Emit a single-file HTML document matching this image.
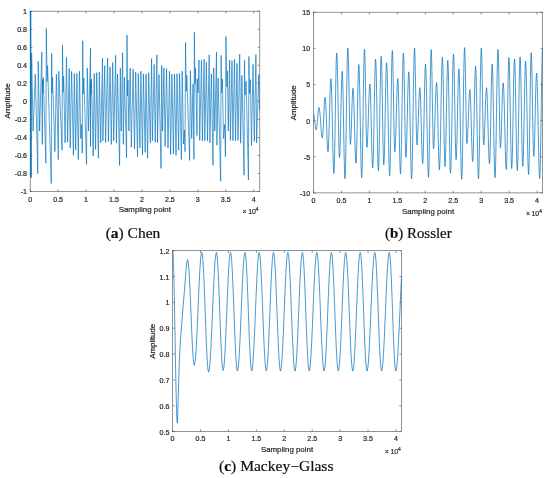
<!DOCTYPE html>
<html><head><meta charset="utf-8"><title>Figure</title>
<style>
html,body{margin:0;padding:0;background:#fff;}
body{width:550px;height:478px;overflow:hidden;position:relative;}
svg{position:absolute;left:0;top:0;display:block;}
text{font-family:"Liberation Sans",Arial,Helvetica,sans-serif;fill:#262626;}
.xt{font-size:7.1px;text-anchor:middle;stroke:#262626;stroke-width:0.2px;}
.yt{font-size:7.1px;text-anchor:end;stroke:#262626;stroke-width:0.2px;}
.lb{font-size:7.9px;text-anchor:middle;stroke:#262626;stroke-width:0.2px;}
.ex{font-size:6.9px;text-anchor:start;stroke:#262626;stroke-width:0.15px;}
.cap{font-family:"Liberation Serif","Times New Roman",serif;font-size:14.4px;text-anchor:start;fill:#111;stroke:#111;stroke-width:0.2px;}
.ln{fill:none;stroke:#0072bd;stroke-linejoin:round;stroke-linecap:butt;}
</style></head><body>
<svg width="550" height="478" viewBox="0 0 550 478">
<rect width="550" height="478" fill="#fff"/>
<defs><filter id="soft" x="-2%" y="-2%" width="104%" height="104%"><feGaussianBlur stdDeviation="0.32"/></filter></defs>

<g id="chen">
<rect x="30.2" y="11.2" width="229.60" height="180.30" fill="none" stroke="#4d4d4d" stroke-width="0.6"/><path d="M30.20 191.5 v-2.3 M30.20 11.2 v2.3 M58.14 191.5 v-2.3 M58.14 11.2 v2.3 M86.08 191.5 v-2.3 M86.08 11.2 v2.3 M114.02 191.5 v-2.3 M114.02 11.2 v2.3 M141.96 191.5 v-2.3 M141.96 11.2 v2.3 M169.90 191.5 v-2.3 M169.90 11.2 v2.3 M197.84 191.5 v-2.3 M197.84 11.2 v2.3 M225.78 191.5 v-2.3 M225.78 11.2 v2.3 M253.72 191.5 v-2.3 M253.72 11.2 v2.3 M30.2 11.20 h2.3 M259.8 11.20 h-2.3 M30.2 29.23 h2.3 M259.8 29.23 h-2.3 M30.2 47.26 h2.3 M259.8 47.26 h-2.3 M30.2 65.29 h2.3 M259.8 65.29 h-2.3 M30.2 83.32 h2.3 M259.8 83.32 h-2.3 M30.2 101.35 h2.3 M259.8 101.35 h-2.3 M30.2 119.38 h2.3 M259.8 119.38 h-2.3 M30.2 137.41 h2.3 M259.8 137.41 h-2.3 M30.2 155.44 h2.3 M259.8 155.44 h-2.3 M30.2 173.47 h2.3 M259.8 173.47 h-2.3 M30.2 191.50 h2.3 M259.8 191.50 h-2.3 " stroke="#4d4d4d" stroke-width="0.6" fill="none"/>
<path class="ln" filter="url(#soft)" stroke-width="0.66" d="M30.40 11.20 L31.15 177.80 L31.60 53.10 L33.08 131.00 L35.30 74.20 L37.75 173.50 L38.20 61.40 L39.64 131.00 L41.80 52.10 L42.30 144.40 L42.57 79.70 L42.75 93.70 L43.30 77.70 L45.85 163.30 L46.30 28.40 L47.05 81.50 L47.60 65.50 L51.25 183.60 L51.70 53.40 L51.95 93.00 L52.50 77.00 L54.90 151.60 L56.40 74.20 L58.30 159.60 L58.80 71.30 L62.05 150.20 L62.50 45.10 L63.05 92.40 L63.60 76.40 L65.10 142.90 L66.50 57.50 L67.60 142.20 L69.20 68.40 L70.20 148.00 L71.60 71.30 L73.40 155.30 L74.30 73.50 L75.70 150.20 L76.90 73.50 L78.30 159.60 L79.50 71.30 L80.70 138.50 L81.63 124.50 L82.25 153.10 L82.70 40.70 L83.25 94.00 L83.80 78.00 L86.50 164.40 L87.30 67.90 L88.58 131.00 L90.50 48.00 L90.50 146.50 L90.77 81.00 L90.95 95.00 L91.50 79.00 L93.20 156.00 L94.20 73.50 L95.60 149.50 L96.70 72.70 L98.40 158.20 L99.30 72.00 L100.70 142.90 L102.50 58.20 L102.90 140.70 L104.70 65.60 L105.60 142.50 L107.60 58.10 L108.40 141.50 L110.10 66.80 L111.30 144.40 L112.70 62.50 L113.70 140.70 L115.60 55.30 L116.40 142.90 L117.50 74.10 L119.60 165.50 L120.30 68.00 L121.22 131.00 L122.60 52.70 L123.30 144.40 L124.40 77.50 L126.55 157.70 L127.00 35.00 L127.45 96.00 L128.00 80.00 L128.88 131.00 L130.20 68.00 L131.30 147.30 L133.10 69.20 L134.50 149.00 L135.70 71.90 L137.50 156.70 L138.30 73.40 L139.90 148.00 L140.90 71.20 L142.50 154.80 L143.40 73.80 L145.20 152.40 L146.00 74.10 L147.60 158.20 L148.70 72.70 L150.30 142.90 L151.60 58.50 L152.40 140.70 L154.20 64.40 L155.20 142.20 L156.90 54.90 L157.50 142.90 L159.00 74.50 L161.00 168.40 L161.70 65.40 L162.58 131.00 L163.90 68.00 L165.10 146.50 L166.50 68.70 L168.00 148.00 L169.50 71.20 L170.60 154.50 L171.90 74.10 L173.40 153.80 L174.50 74.10 L176.00 155.30 L177.00 73.80 L178.60 150.20 L179.60 73.40 L181.40 159.60 L182.20 71.20 L183.50 144.00 L184.43 130.00 L185.05 151.60 L185.50 42.50 L186.25 91.30 L186.80 75.30 L189.60 160.40 L190.40 70.60 L191.70 138.50 L193.05 84.00 L193.95 159.30 L194.40 32.40 L194.95 84.00 L195.50 68.00 L197.00 135.60 L197.30 78.90 L197.98 92.90 L199.00 60.00 L199.70 140.40 L201.50 60.40 L202.40 140.70 L204.10 59.30 L204.80 140.70 L206.40 62.20 L207.50 140.70 L209.20 54.90 L209.90 142.90 L211.40 73.80 L213.00 165.20 L213.70 68.00 L214.82 131.00 L216.50 52.00 L216.90 145.10 L218.10 78.20 L220.65 181.20 L221.10 55.30 L221.62 92.90 L222.40 78.90 L223.50 138.50 L224.67 124.50 L225.45 156.70 L225.90 36.40 L226.85 86.90 L227.40 70.90 L228.28 131.00 L229.60 60.00 L230.40 140.40 L232.00 60.70 L232.90 140.70 L234.50 59.00 L235.50 140.70 L237.00 63.20 L238.00 140.40 L239.70 54.20 L240.60 143.20 L241.90 75.30 L244.05 175.20 L244.50 60.40 L245.14 95.10 L246.10 81.10 L248.45 180.00 L248.90 56.40 L249.50 93.60 L250.40 79.60 L251.50 145.50 L253.00 64.40 L254.30 141.50 L255.90 54.60 L256.60 142.90 L258.70 74.50 L259.50 110.00"/>
<path class="ln" stroke-width="1.1" d="M30.75 11 V177"/>
<text class="xt" x="30.20" y="201.90">0</text><text class="xt" x="58.14" y="201.90">0.5</text><text class="xt" x="86.08" y="201.90">1</text><text class="xt" x="114.02" y="201.90">1.5</text><text class="xt" x="141.96" y="201.90">2</text><text class="xt" x="169.90" y="201.90">2.5</text><text class="xt" x="197.84" y="201.90">3</text><text class="xt" x="225.78" y="201.90">3.5</text><text class="xt" x="253.72" y="201.90">4</text>
<text class="yt" x="27.00" y="13.60">1</text><text class="yt" x="27.00" y="31.63">0.8</text><text class="yt" x="27.00" y="49.66">0.6</text><text class="yt" x="27.00" y="67.69">0.4</text><text class="yt" x="27.00" y="85.72">0.2</text><text class="yt" x="27.00" y="103.75">0</text><text class="yt" x="27.00" y="121.78">-0.2</text><text class="yt" x="27.00" y="139.81">-0.4</text><text class="yt" x="27.00" y="157.84">-0.6</text><text class="yt" x="27.00" y="175.87">-0.8</text><text class="yt" x="27.00" y="193.90">-1</text>
<text class="lb" x="144.8" y="212.2">Sampling point</text>
<text class="lb" transform="translate(10.1,101) rotate(-90)">Amplitude</text>
<text class="ex" x="242.6" y="213.8">×</text><text class="ex" x="248.2" y="213.8">10</text><text class="ex" style="font-size:5.5px" x="255.6" y="210.8">4</text>
<text class="cap" transform="translate(105.7,237.5) scale(1.075,1)">(<tspan font-weight="bold">a</tspan>) Chen</text>
</g>
<g id="rossler">
<rect x="313.4" y="12.2" width="229.30" height="180.70" fill="none" stroke="#4d4d4d" stroke-width="0.6"/><path d="M313.50 192.9 v-2.3 M313.50 12.2 v2.3 M341.45 192.9 v-2.3 M341.45 12.2 v2.3 M369.40 192.9 v-2.3 M369.40 12.2 v2.3 M397.35 192.9 v-2.3 M397.35 12.2 v2.3 M425.30 192.9 v-2.3 M425.30 12.2 v2.3 M453.25 192.9 v-2.3 M453.25 12.2 v2.3 M481.20 192.9 v-2.3 M481.20 12.2 v2.3 M509.15 192.9 v-2.3 M509.15 12.2 v2.3 M537.10 192.9 v-2.3 M537.10 12.2 v2.3 M313.4 12.20 h2.3 M542.7 12.20 h-2.3 M313.4 48.34 h2.3 M542.7 48.34 h-2.3 M313.4 84.48 h2.3 M542.7 84.48 h-2.3 M313.4 120.62 h2.3 M542.7 120.62 h-2.3 M313.4 156.76 h2.3 M542.7 156.76 h-2.3 M313.4 192.90 h2.3 M542.7 192.90 h-2.3 " stroke="#4d4d4d" stroke-width="0.6" fill="none"/>
<path class="ln" stroke-width="0.72" d="M313.50 114.00 L313.77 114.39 L314.04 115.52 L314.31 117.28 L314.58 119.49 L314.85 121.95 L315.12 124.41 L315.39 126.62 L315.66 128.38 L315.93 129.51 L316.20 129.90 L316.48 129.35 L316.76 127.76 L317.04 125.28 L317.32 122.16 L317.60 118.70 L317.88 115.24 L318.16 112.12 L318.44 109.64 L318.72 108.05 L319.00 107.50 L319.33 108.24 L319.66 110.40 L319.99 113.77 L320.32 118.00 L320.65 122.70 L320.98 127.40 L321.31 131.63 L321.64 135.00 L321.97 137.16 L322.30 137.90 L322.58 136.90 L322.86 134.01 L323.14 129.51 L323.42 123.84 L323.70 117.55 L323.98 111.26 L324.26 105.59 L324.54 101.09 L324.82 98.20 L325.10 97.20 L325.39 98.54 L325.68 102.41 L325.97 108.45 L326.26 116.06 L326.55 124.50 L326.84 132.94 L327.13 140.55 L327.42 146.59 L327.71 150.46 L328.00 151.80 L328.29 150.01 L328.58 144.82 L328.87 136.73 L329.16 126.54 L329.45 115.25 L329.74 103.96 L330.03 93.77 L330.32 85.68 L330.61 80.49 L330.90 78.70 L331.20 81.02 L331.50 87.75 L331.80 98.24 L332.10 111.45 L332.40 126.10 L332.70 140.75 L333.00 153.96 L333.30 164.45 L333.60 171.18 L333.90 173.50 L334.18 170.55 L334.46 161.99 L334.74 148.66 L335.02 131.87 L335.30 113.25 L335.58 94.63 L335.86 77.84 L336.14 64.51 L336.42 55.95 L336.70 53.00 L336.98 55.56 L337.26 62.98 L337.54 74.54 L337.82 89.10 L338.10 105.25 L338.38 121.40 L338.66 135.96 L338.94 147.52 L339.22 154.94 L339.50 157.50 L339.77 155.39 L340.04 149.27 L340.31 139.73 L340.58 127.72 L340.85 114.40 L341.12 101.08 L341.39 89.07 L341.66 79.53 L341.93 73.41 L342.20 71.30 L342.48 73.93 L342.76 81.57 L343.04 93.46 L343.32 108.44 L343.60 125.05 L343.88 141.66 L344.16 156.64 L344.44 168.53 L344.72 176.17 L345.00 178.80 L345.28 175.60 L345.56 166.32 L345.84 151.86 L346.12 133.64 L346.40 113.45 L346.68 93.26 L346.96 75.04 L347.24 60.58 L347.52 51.30 L347.80 48.10 L348.06 50.46 L348.32 57.30 L348.58 67.95 L348.84 81.37 L349.10 96.25 L349.36 111.13 L349.62 124.55 L349.88 135.20 L350.14 142.04 L350.40 144.40 L350.66 143.02 L350.92 139.03 L351.18 132.82 L351.44 124.98 L351.70 116.30 L351.96 107.62 L352.22 99.78 L352.48 93.57 L352.74 89.58 L353.00 88.20 L353.30 90.04 L353.60 95.36 L353.90 103.66 L354.20 114.11 L354.50 125.70 L354.80 137.29 L355.10 147.74 L355.40 156.04 L355.70 161.36 L356.00 163.20 L356.28 160.78 L356.56 153.77 L356.84 142.86 L357.12 129.10 L357.40 113.85 L357.68 98.60 L357.96 84.84 L358.24 73.93 L358.52 66.92 L358.80 64.50 L359.09 67.27 L359.38 75.30 L359.67 87.81 L359.96 103.58 L360.25 121.05 L360.54 138.52 L360.83 154.29 L361.12 166.80 L361.41 174.83 L361.70 177.60 L361.98 174.46 L362.26 165.34 L362.54 151.14 L362.82 133.24 L363.10 113.40 L363.38 93.56 L363.66 75.66 L363.94 61.46 L364.22 52.34 L364.50 49.20 L364.74 51.60 L364.98 58.58 L365.22 69.44 L365.46 83.13 L365.70 98.30 L365.94 113.47 L366.18 127.16 L366.42 138.02 L366.66 145.00 L366.90 147.40 L367.20 145.85 L367.50 141.36 L367.80 134.35 L368.10 125.53 L368.40 115.75 L368.70 105.97 L369.00 97.15 L369.30 90.14 L369.60 85.65 L369.90 84.10 L370.18 86.15 L370.46 92.09 L370.74 101.35 L371.02 113.02 L371.30 125.95 L371.58 138.88 L371.86 150.55 L372.14 159.81 L372.42 165.75 L372.70 167.80 L372.99 165.14 L373.28 157.43 L373.57 145.42 L373.86 130.28 L374.15 113.50 L374.44 96.72 L374.73 81.58 L375.02 69.57 L375.31 61.86 L375.60 59.20 L375.88 61.93 L376.16 69.84 L376.44 82.16 L376.72 97.69 L377.00 114.90 L377.28 132.11 L377.56 147.64 L377.84 159.96 L378.12 167.87 L378.40 170.60 L378.68 167.80 L378.96 159.69 L379.24 147.04 L379.52 131.11 L379.80 113.45 L380.08 95.79 L380.36 79.86 L380.64 67.21 L380.92 59.10 L381.20 56.30 L381.46 58.96 L381.72 66.67 L381.98 78.68 L382.24 93.82 L382.50 110.60 L382.76 127.38 L383.02 142.52 L383.28 154.53 L383.54 162.24 L383.80 164.90 L384.08 162.40 L384.36 155.15 L384.64 143.86 L384.92 129.63 L385.20 113.85 L385.48 98.07 L385.76 83.84 L386.04 72.55 L386.32 65.30 L386.60 62.80 L386.91 65.56 L387.22 73.58 L387.53 86.07 L387.84 101.81 L388.15 119.25 L388.46 136.69 L388.77 152.43 L389.08 164.92 L389.39 172.94 L389.70 175.70 L389.96 172.64 L390.22 163.74 L390.48 149.90 L390.74 132.44 L391.00 113.10 L391.26 93.76 L391.52 76.30 L391.78 62.46 L392.04 53.56 L392.30 50.50 L392.55 52.98 L392.80 60.17 L393.05 71.38 L393.30 85.50 L393.55 101.15 L393.80 116.80 L394.05 130.92 L394.30 142.13 L394.55 149.32 L394.80 151.80 L395.10 150.01 L395.40 144.81 L395.70 136.71 L396.00 126.51 L396.30 115.20 L396.60 103.89 L396.90 93.69 L397.20 85.59 L397.50 80.39 L397.80 78.60 L398.07 80.93 L398.34 87.70 L398.61 98.24 L398.88 111.53 L399.15 126.25 L399.42 140.97 L399.69 154.26 L399.96 164.80 L400.23 171.57 L400.50 173.90 L400.79 170.94 L401.08 162.36 L401.37 148.98 L401.66 132.13 L401.95 113.45 L402.24 94.77 L402.53 77.92 L402.82 64.54 L403.11 55.96 L403.40 53.00 L403.65 55.55 L403.90 62.95 L404.15 74.48 L404.40 89.00 L404.65 105.10 L404.90 121.20 L405.15 135.72 L405.40 147.25 L405.65 154.65 L405.90 157.20 L406.19 155.11 L406.48 149.05 L406.77 139.60 L407.06 127.70 L407.35 114.50 L407.64 101.30 L407.93 89.40 L408.22 79.95 L408.51 73.89 L408.80 71.80 L409.08 74.42 L409.36 82.02 L409.64 93.85 L409.92 108.77 L410.20 125.30 L410.48 141.83 L410.76 156.75 L411.04 168.58 L411.32 176.18 L411.60 178.80 L411.89 175.60 L412.18 166.32 L412.47 151.86 L412.76 133.64 L413.05 113.45 L413.34 93.26 L413.63 75.04 L413.92 60.58 L414.21 51.30 L414.50 48.10 L414.75 50.47 L415.00 57.34 L415.25 68.05 L415.50 81.54 L415.75 96.50 L416.00 111.46 L416.25 124.95 L416.50 135.66 L416.75 142.53 L417.00 144.90 L417.28 143.50 L417.56 139.44 L417.84 133.11 L418.12 125.14 L418.40 116.30 L418.68 107.46 L418.96 99.49 L419.24 93.16 L419.52 89.10 L419.80 87.70 L420.09 89.56 L420.38 94.96 L420.67 103.36 L420.96 113.96 L421.25 125.70 L421.54 137.44 L421.83 148.04 L422.12 156.44 L422.41 161.84 L422.70 163.70 L422.98 161.26 L423.26 154.19 L423.54 143.17 L423.82 129.29 L424.10 113.90 L424.38 98.51 L424.66 84.63 L424.94 73.61 L425.22 66.54 L425.50 64.10 L425.80 66.87 L426.10 74.91 L426.40 87.43 L426.70 103.21 L427.00 120.70 L427.30 138.19 L427.60 153.97 L427.90 166.49 L428.20 174.53 L428.50 177.30 L428.77 174.18 L429.04 165.12 L429.31 151.00 L429.58 133.22 L429.85 113.50 L430.12 93.78 L430.39 76.00 L430.66 61.88 L430.93 52.82 L431.20 49.70 L431.43 52.12 L431.66 59.15 L431.89 70.10 L432.12 83.90 L432.35 99.20 L432.58 114.50 L432.81 128.30 L433.04 139.25 L433.27 146.28 L433.50 148.70 L433.81 147.08 L434.12 142.38 L434.43 135.06 L434.74 125.83 L435.05 115.60 L435.36 105.37 L435.67 96.14 L435.98 88.82 L436.29 84.12 L436.60 82.50 L436.88 84.64 L437.16 90.84 L437.44 100.49 L437.72 112.66 L438.00 126.15 L438.28 139.64 L438.56 151.81 L438.84 161.46 L439.12 167.66 L439.40 169.80 L439.70 167.04 L440.00 159.04 L440.30 146.57 L440.60 130.86 L440.90 113.45 L441.20 96.04 L441.50 80.33 L441.80 67.86 L442.10 59.86 L442.40 57.10 L442.66 59.78 L442.92 67.55 L443.18 79.65 L443.44 94.90 L443.70 111.80 L443.96 128.70 L444.22 143.95 L444.48 156.05 L444.74 163.82 L445.00 166.50 L445.28 163.90 L445.56 156.37 L445.84 144.63 L446.12 129.84 L446.40 113.45 L446.68 97.06 L446.96 82.27 L447.24 70.53 L447.52 63.00 L447.80 60.40 L448.07 63.16 L448.34 71.16 L448.61 83.63 L448.88 99.34 L449.15 116.75 L449.42 134.16 L449.69 149.87 L449.96 162.34 L450.23 170.34 L450.50 173.10 L450.80 170.19 L451.10 161.74 L451.40 148.57 L451.70 131.99 L452.00 113.60 L452.30 95.21 L452.60 78.63 L452.90 65.46 L453.20 57.01 L453.50 54.10 L453.76 56.68 L454.02 64.17 L454.28 75.84 L454.54 90.55 L454.80 106.85 L455.06 123.15 L455.32 137.86 L455.58 149.53 L455.84 157.02 L456.10 159.60 L456.38 157.38 L456.66 150.94 L456.94 140.91 L457.22 128.26 L457.50 114.25 L457.78 100.24 L458.06 87.59 L458.34 77.56 L458.62 71.12 L458.90 68.90 L459.18 71.60 L459.46 79.44 L459.74 91.65 L460.02 107.04 L460.30 124.10 L460.58 141.16 L460.86 156.55 L461.14 168.76 L461.42 176.60 L461.70 179.30 L461.99 176.08 L462.28 166.72 L462.57 152.16 L462.86 133.80 L463.15 113.45 L463.44 93.10 L463.73 74.74 L464.02 60.18 L464.31 50.82 L464.60 47.60 L464.83 49.95 L465.06 56.77 L465.29 67.39 L465.52 80.77 L465.75 95.60 L465.98 110.43 L466.21 123.81 L466.44 134.43 L466.67 141.25 L466.90 143.60 L467.20 142.28 L467.50 138.43 L467.80 132.45 L468.10 124.91 L468.40 116.55 L468.70 108.19 L469.00 100.65 L469.30 94.67 L469.60 90.82 L469.90 89.50 L470.18 91.26 L470.46 96.38 L470.74 104.36 L471.02 114.41 L471.30 125.55 L471.58 136.69 L471.86 146.74 L472.14 154.72 L472.42 159.84 L472.70 161.60 L472.99 159.27 L473.28 152.51 L473.57 141.98 L473.86 128.71 L474.15 114.00 L474.44 99.29 L474.73 86.02 L475.02 75.49 L475.31 68.73 L475.60 66.40 L475.89 69.15 L476.18 77.12 L476.47 89.55 L476.76 105.20 L477.05 122.55 L477.34 139.90 L477.63 155.55 L477.92 167.98 L478.21 175.95 L478.50 178.70 L478.78 175.50 L479.06 166.23 L479.34 151.78 L479.62 133.58 L479.90 113.40 L480.18 93.22 L480.46 75.02 L480.74 60.57 L481.02 51.30 L481.30 48.10 L481.54 50.47 L481.78 57.34 L482.02 68.05 L482.26 81.54 L482.50 96.50 L482.74 111.46 L482.98 124.95 L483.22 135.66 L483.46 142.53 L483.70 144.90 L483.98 143.50 L484.26 139.44 L484.54 133.11 L484.82 125.14 L485.10 116.30 L485.38 107.46 L485.66 99.49 L485.94 93.16 L486.22 89.10 L486.50 87.70 L486.80 89.56 L487.10 94.96 L487.40 103.36 L487.70 113.96 L488.00 125.70 L488.30 137.44 L488.60 148.04 L488.90 156.44 L489.20 161.84 L489.50 163.70 L489.77 161.26 L490.04 154.19 L490.31 143.17 L490.58 129.29 L490.85 113.90 L491.12 98.51 L491.39 84.63 L491.66 73.61 L491.93 66.54 L492.20 64.10 L492.48 66.88 L492.76 74.94 L493.04 87.49 L493.32 103.31 L493.60 120.85 L493.88 138.39 L494.16 154.21 L494.44 166.76 L494.72 174.82 L495.00 177.60 L495.30 174.46 L495.60 165.36 L495.90 151.18 L496.20 133.31 L496.50 113.50 L496.80 93.69 L497.10 75.82 L497.40 61.64 L497.70 52.54 L498.00 49.40 L498.24 51.82 L498.48 58.83 L498.72 69.76 L498.96 83.53 L499.20 98.80 L499.44 114.07 L499.68 127.84 L499.92 138.77 L500.16 145.78 L500.40 148.20 L500.68 146.60 L500.96 141.96 L501.24 134.74 L501.52 125.64 L501.80 115.55 L502.08 105.46 L502.36 96.36 L502.64 89.14 L502.92 84.50 L503.20 82.90 L503.51 85.02 L503.82 91.17 L504.13 100.75 L504.44 112.82 L504.75 126.20 L505.06 139.58 L505.37 151.65 L505.68 161.23 L505.99 167.38 L506.30 169.50 L506.56 166.76 L506.82 158.81 L507.08 146.44 L507.34 130.84 L507.60 113.55 L507.86 96.26 L508.12 80.66 L508.38 68.29 L508.64 60.34 L508.90 57.60 L509.18 60.32 L509.46 68.20 L509.74 80.48 L510.02 95.95 L510.30 113.10 L510.58 130.25 L510.86 145.72 L511.14 158.00 L511.42 165.88 L511.70 168.60 L511.98 165.92 L512.26 158.14 L512.54 146.03 L512.82 130.77 L513.10 113.85 L513.38 96.93 L513.66 81.67 L513.94 69.56 L514.22 61.78 L514.50 59.10 L514.78 61.83 L515.06 69.75 L515.34 82.08 L515.62 97.62 L515.90 114.85 L516.18 132.08 L516.46 147.62 L516.74 159.95 L517.02 167.87 L517.30 170.60 L517.58 167.82 L517.86 159.73 L518.14 147.14 L518.42 131.28 L518.70 113.70 L518.98 96.12 L519.26 80.26 L519.54 67.67 L519.82 59.58 L520.10 56.80 L520.37 59.48 L520.64 67.25 L520.91 79.35 L521.18 94.60 L521.45 111.50 L521.72 128.40 L521.99 143.65 L522.26 155.75 L522.53 163.52 L522.80 166.20 L523.08 163.63 L523.36 156.17 L523.64 144.56 L523.92 129.92 L524.20 113.70 L524.48 97.48 L524.76 82.84 L525.04 71.23 L525.32 63.77 L525.60 61.20 L525.90 63.97 L526.20 72.01 L526.50 84.53 L526.80 100.31 L527.10 117.80 L527.40 135.29 L527.70 151.07 L528.00 163.59 L528.30 171.63 L528.60 174.40 L528.86 171.42 L529.12 162.78 L529.38 149.32 L529.64 132.35 L529.90 113.55 L530.16 94.75 L530.42 77.78 L530.68 64.32 L530.94 55.68 L531.20 52.70 L531.46 55.24 L531.72 62.60 L531.98 74.07 L532.24 88.53 L532.50 104.55 L532.76 120.57 L533.02 135.03 L533.28 146.50 L533.54 153.86 L533.80 156.40 L534.08 154.36 L534.36 148.44 L534.64 139.21 L534.92 127.59 L535.20 114.70 L535.48 101.81 L535.76 90.19 L536.04 80.96 L536.32 75.04 L536.60 73.00 L536.91 75.58 L537.22 83.07 L537.53 94.74 L537.84 109.45 L538.15 125.75 L538.46 142.05 L538.77 156.76 L539.08 168.43 L539.39 175.92 L539.70 178.50 L540.06 173.55 L540.43 159.45 L540.79 138.34 L541.15 113.45 L541.51 88.56 L541.88 67.45 L542.24 53.35 L542.60 48.40"/>
<text class="xt" x="313.50" y="203.20">0</text><text class="xt" x="341.45" y="203.20">0.5</text><text class="xt" x="369.40" y="203.20">1</text><text class="xt" x="397.35" y="203.20">1.5</text><text class="xt" x="425.30" y="203.20">2</text><text class="xt" x="453.25" y="203.20">2.5</text><text class="xt" x="481.20" y="203.20">3</text><text class="xt" x="509.15" y="203.20">3.5</text><text class="xt" x="537.10" y="203.20">4</text>
<text class="yt" x="310.20" y="15.10">15</text><text class="yt" x="310.20" y="51.24">10</text><text class="yt" x="310.20" y="87.38">5</text><text class="yt" x="310.20" y="123.52">0</text><text class="yt" x="310.20" y="159.66">-5</text><text class="yt" x="310.20" y="195.80">-10</text>
<text class="lb" x="428" y="214.3">Sampling point</text>
<text class="lb" transform="translate(295.7,102.8) rotate(-90)">Amplitude</text>
<text class="ex" x="525.9" y="216.2">×</text><text class="ex" x="531.5" y="216.2">10</text><text class="ex" style="font-size:5.5px" x="538.9" y="213.2">4</text>
<text class="cap" transform="translate(385.1,237.5) scale(1.034,1)">(<tspan font-weight="bold">b</tspan>) Rossler</text>
</g>
<g id="mg">
<rect x="172.6" y="250.7" width="229.00" height="180.90" fill="none" stroke="#4d4d4d" stroke-width="0.6"/><path d="M172.60 431.6 v-2.3 M172.60 250.7 v2.3 M200.52 431.6 v-2.3 M200.52 250.7 v2.3 M228.44 431.6 v-2.3 M228.44 250.7 v2.3 M256.36 431.6 v-2.3 M256.36 250.7 v2.3 M284.28 431.6 v-2.3 M284.28 250.7 v2.3 M312.20 431.6 v-2.3 M312.20 250.7 v2.3 M340.12 431.6 v-2.3 M340.12 250.7 v2.3 M368.04 431.6 v-2.3 M368.04 250.7 v2.3 M395.96 431.6 v-2.3 M395.96 250.7 v2.3 M172.6 250.70 h2.3 M401.6 250.70 h-2.3 M172.6 276.54 h2.3 M401.6 276.54 h-2.3 M172.6 302.38 h2.3 M401.6 302.38 h-2.3 M172.6 328.22 h2.3 M401.6 328.22 h-2.3 M172.6 354.06 h2.3 M401.6 354.06 h-2.3 M172.6 379.90 h2.3 M401.6 379.90 h-2.3 M172.6 405.74 h2.3 M401.6 405.74 h-2.3 M172.6 431.58 h2.3 M401.6 431.58 h-2.3 " stroke="#4d4d4d" stroke-width="0.6" fill="none"/>
<path class="ln" stroke-width="0.72" d="M172.70 251.00 L173.09 253.93 L173.48 262.53 L173.88 276.20 L174.27 294.02 L174.66 314.78 L175.05 337.05 L175.44 359.32 L175.83 380.07 L176.22 397.90 L176.62 411.57 L177.01 420.17 L177.40 423.10 L178.00 405.00 L178.60 385.00 L179.30 362.00 L180.10 345.00 L181.00 333.00 L182.00 320.00 L183.20 305.00 L184.60 289.00 L185.80 272.00 L186.80 262.50 L187.60 259.70 L188.16 261.50 L188.72 266.77 L189.28 275.15 L189.83 286.07 L190.39 298.80 L190.95 312.45 L191.51 326.10 L192.07 338.82 L192.62 349.75 L193.18 358.13 L193.74 363.40 L194.30 365.20 L194.93 363.28 L195.55 357.64 L196.18 348.68 L196.80 337.00 L197.43 323.40 L198.05 308.80 L198.68 294.20 L199.30 280.60 L199.93 268.92 L200.55 259.96 L201.18 254.32 L201.80 252.40 L202.37 254.44 L202.93 260.42 L203.50 269.93 L204.07 282.32 L204.63 296.76 L205.20 312.25 L205.77 327.74 L206.33 342.18 L206.90 354.57 L207.47 364.08 L208.03 370.06 L208.60 372.10 L209.25 370.06 L209.90 364.08 L210.55 354.57 L211.20 342.18 L211.85 327.74 L212.50 312.25 L213.15 296.76 L213.80 282.33 L214.45 269.93 L215.10 260.42 L215.75 254.44 L216.40 252.40 L216.96 254.41 L217.52 260.31 L218.07 269.70 L218.63 281.93 L219.19 296.17 L219.75 311.45 L220.31 326.73 L220.87 340.98 L221.43 353.20 L221.98 362.59 L222.54 368.49 L223.10 370.50 L223.72 368.49 L224.33 362.59 L224.95 353.20 L225.57 340.98 L226.18 326.73 L226.80 311.45 L227.42 296.17 L228.03 281.93 L228.65 269.70 L229.27 260.31 L229.88 254.41 L230.50 252.40 L231.07 254.42 L231.65 260.34 L232.22 269.77 L232.80 282.05 L233.38 296.35 L233.95 311.70 L234.53 327.05 L235.10 341.35 L235.68 353.63 L236.25 363.06 L236.83 368.98 L237.40 371.00 L238.03 368.98 L238.67 363.06 L239.30 353.63 L239.93 341.35 L240.57 327.05 L241.20 311.70 L241.83 296.35 L242.47 282.05 L243.10 269.77 L243.73 260.34 L244.37 254.42 L245.00 252.40 L245.56 254.42 L246.12 260.34 L246.68 269.77 L247.23 282.05 L247.79 296.35 L248.35 311.70 L248.91 327.05 L249.47 341.35 L250.02 353.63 L250.58 363.06 L251.14 368.98 L251.70 371.00 L252.32 368.98 L252.95 363.06 L253.57 353.63 L254.20 341.35 L254.82 327.05 L255.45 311.70 L256.07 296.35 L256.70 282.05 L257.32 269.77 L257.95 260.34 L258.57 254.42 L259.20 252.40 L259.79 254.42 L260.38 260.34 L260.98 269.77 L261.57 282.05 L262.16 296.35 L262.75 311.70 L263.34 327.05 L263.93 341.35 L264.52 353.63 L265.12 363.06 L265.71 368.98 L266.30 371.00 L266.90 368.98 L267.50 363.06 L268.10 353.63 L268.70 341.35 L269.30 327.05 L269.90 311.70 L270.50 296.35 L271.10 282.05 L271.70 269.77 L272.30 260.34 L272.90 254.42 L273.50 252.40 L274.08 254.42 L274.67 260.34 L275.25 269.77 L275.83 282.05 L276.42 296.35 L277.00 311.70 L277.58 327.05 L278.17 341.35 L278.75 353.63 L279.33 363.06 L279.92 368.98 L280.50 371.00 L281.12 368.98 L281.73 363.06 L282.35 353.63 L282.97 341.35 L283.58 327.05 L284.20 311.70 L284.82 296.35 L285.43 282.05 L286.05 269.77 L286.67 260.34 L287.28 254.42 L287.90 252.40 L288.49 254.42 L289.08 260.34 L289.67 269.77 L290.27 282.05 L290.86 296.35 L291.45 311.70 L292.04 327.05 L292.63 341.35 L293.23 353.63 L293.82 363.06 L294.41 368.98 L295.00 371.00 L295.62 368.98 L296.23 363.06 L296.85 353.63 L297.47 341.35 L298.08 327.05 L298.70 311.70 L299.32 296.35 L299.93 282.05 L300.55 269.77 L301.17 260.34 L301.78 254.42 L302.40 252.40 L302.97 254.42 L303.53 260.34 L304.10 269.77 L304.67 282.05 L305.23 296.35 L305.80 311.70 L306.37 327.05 L306.93 341.35 L307.50 353.63 L308.07 363.06 L308.63 368.98 L309.20 371.00 L309.83 368.98 L310.47 363.06 L311.10 353.63 L311.73 341.35 L312.37 327.05 L313.00 311.70 L313.63 296.35 L314.27 282.05 L314.90 269.77 L315.53 260.34 L316.17 254.42 L316.80 252.40 L317.41 254.42 L318.02 260.34 L318.62 269.77 L319.23 282.05 L319.84 296.35 L320.45 311.70 L321.06 327.05 L321.67 341.35 L322.28 353.63 L322.88 363.06 L323.49 368.98 L324.10 371.00 L324.71 368.98 L325.32 363.06 L325.93 353.63 L326.53 341.35 L327.14 327.05 L327.75 311.70 L328.36 296.35 L328.97 282.05 L329.57 269.77 L330.18 260.34 L330.79 254.42 L331.40 252.40 L331.97 254.42 L332.55 260.34 L333.12 269.77 L333.70 282.05 L334.27 296.35 L334.85 311.70 L335.43 327.05 L336.00 341.35 L336.57 353.63 L337.15 363.06 L337.73 368.98 L338.30 371.00 L338.92 368.98 L339.53 363.06 L340.15 353.63 L340.77 341.35 L341.38 327.05 L342.00 311.70 L342.62 296.35 L343.23 282.05 L343.85 269.77 L344.47 260.34 L345.08 254.42 L345.70 252.40 L346.29 254.42 L346.88 260.34 L347.48 269.77 L348.07 282.05 L348.66 296.35 L349.25 311.70 L349.84 327.05 L350.43 341.35 L351.02 353.63 L351.62 363.06 L352.21 368.98 L352.80 371.00 L353.42 368.98 L354.03 363.06 L354.65 353.63 L355.27 341.35 L355.88 327.05 L356.50 311.70 L357.12 296.35 L357.73 282.05 L358.35 269.77 L358.97 260.34 L359.58 254.42 L360.20 252.40 L360.77 254.42 L361.33 260.34 L361.90 269.77 L362.47 282.05 L363.03 296.35 L363.60 311.70 L364.17 327.05 L364.73 341.35 L365.30 353.63 L365.87 363.06 L366.43 368.98 L367.00 371.00 L367.65 368.98 L368.30 363.06 L368.95 353.63 L369.60 341.35 L370.25 327.05 L370.90 311.70 L371.55 296.35 L372.20 282.05 L372.85 269.77 L373.50 260.34 L374.15 254.42 L374.80 252.40 L375.37 254.42 L375.93 260.34 L376.50 269.77 L377.07 282.05 L377.63 296.35 L378.20 311.70 L378.77 327.05 L379.33 341.35 L379.90 353.63 L380.47 363.06 L381.03 368.98 L381.60 371.00 L382.24 368.98 L382.88 363.06 L383.53 353.63 L384.17 341.35 L384.81 327.05 L385.45 311.70 L386.09 296.35 L386.73 282.05 L387.38 269.77 L388.02 260.34 L388.66 254.42 L389.30 252.40 L389.84 254.42 L390.38 260.34 L390.93 269.77 L391.47 282.05 L392.01 296.35 L392.55 311.70 L393.09 327.05 L393.63 341.35 L394.18 353.63 L394.72 363.06 L395.26 368.98 L395.80 371.00 L396.48 368.98 L397.17 363.06 L397.85 353.63 L398.53 341.35 L399.22 327.05 L399.90 311.70 L400.58 296.35 L401.27 282.05 L401.50 277.86"/>
<text class="xt" x="172.60" y="441.20">0</text><text class="xt" x="200.52" y="441.20">0.5</text><text class="xt" x="228.44" y="441.20">1</text><text class="xt" x="256.36" y="441.20">1.5</text><text class="xt" x="284.28" y="441.20">2</text><text class="xt" x="312.20" y="441.20">2.5</text><text class="xt" x="340.12" y="441.20">3</text><text class="xt" x="368.04" y="441.20">3.5</text><text class="xt" x="395.96" y="441.20">4</text>
<text class="yt" x="169.40" y="253.70">1.2</text><text class="yt" x="169.40" y="279.54">1.1</text><text class="yt" x="169.40" y="305.38">1</text><text class="yt" x="169.40" y="331.22">0.9</text><text class="yt" x="169.40" y="357.06">0.8</text><text class="yt" x="169.40" y="382.90">0.7</text><text class="yt" x="169.40" y="408.74">0.6</text><text class="yt" x="169.40" y="434.58">0.5</text>
<text class="lb" x="287" y="451.9">Sampling point</text>
<text class="lb" transform="translate(155.0,341.3) rotate(-90)">Amplitude</text>
<text class="ex" x="384.8" y="453.8">×</text><text class="ex" x="390.4" y="453.8">10</text><text class="ex" style="font-size:5.5px" x="397.8" y="450.8">4</text>
<text class="cap" transform="translate(219.0,470.9) scale(1.08,1)">(<tspan font-weight="bold">c</tspan>) Mackey−Glass</text>
</g>
</svg></body></html>
